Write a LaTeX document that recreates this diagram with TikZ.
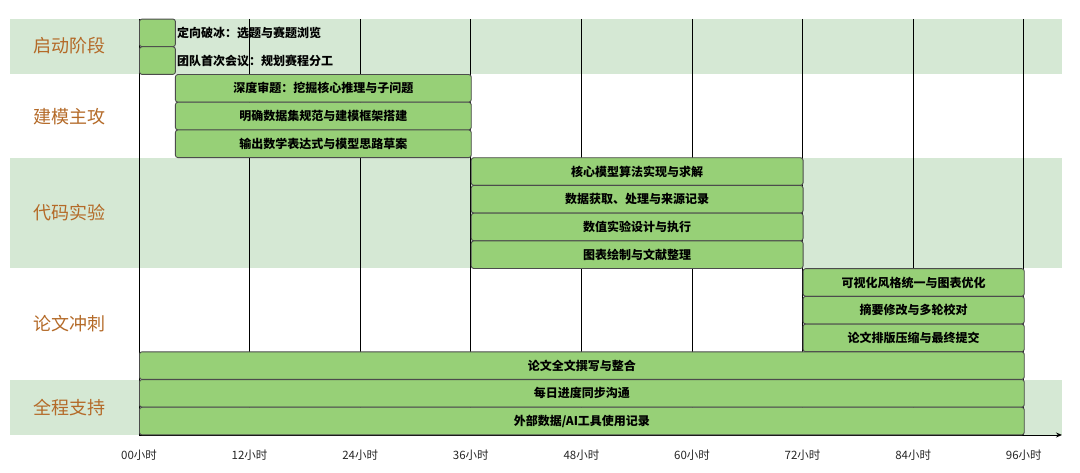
\documentclass[tikz,border=0pt]{standalone}
\usepackage{fontspec}
\setmainfont{Noto Sans CJK SC}
\usetikzlibrary{arrows.meta}
\begin{document}
\begin{tikzpicture}[x=1pt,y=-1pt,
  band/.style={fill=bandgreen,draw=none},
  bar/.style={fill=bargreen,draw=black!70,line width=0.9pt,rounded corners=2.5pt},
  bartext/.style={font=\fontsize{12}{14}\selectfont\bfseries,text=black},
  phase/.style={font=\fontsize{18}{20}\selectfont,text=phasebrown},
  tick/.style={font=\fontsize{11.5}{13}\selectfont,text=black!85},
  grid/.style={draw=black,line width=0.9pt}]
\definecolor{bandgreen}{HTML}{D5E8D4}
\definecolor{bargreen}{HTML}{97D077}
\definecolor{phasebrown}{HTML}{B46A28}
\useasboundingbox (0,0) rectangle (1080,473);
\fill[white] (0,0) rectangle (1080,473);
% bands
\fill[band] (10,19) rectangle (1062,74);
\fill[band] (10,158) rectangle (1062,268);
\fill[band] (10,380) rectangle (1062,435);
\node[phase] (p1) at (70,46) {启动阶段};
\node[phase] (p2) at (70,117) {建模主攻};
\node[phase] (p3) at (70,213) {代码实验};
\node[phase] (p4) at (70,324) {论文冲刺};
\node[phase] (p5) at (70,408) {全程支持};
% grid lines
\foreach \i in {0,...,8} {
  \coordinate (gt\i) at ({139+\i*110.6},19);
  \coordinate (gb\i) at ({139+\i*110.6},435);
  \draw[grid] (gt\i) -- (gb\i);
  \node[tick] (t\i) at ({139+\i*110.6},455) {\ifnum\i=0 00\else\the\numexpr\i*12\relax\fi 小时};
}
\coordinate (axend) at (1062,435);
\draw[grid,-{Stealth[length=6pt,width=5pt]}] (gb0) -- (axend);
% bars: hours -> x = 139 + h*9.2167
\def\hx#1{139+#1*9.2167}
\newcommand\gbar[5]{% name, h0, h1, row, text
  \node[bar,bartext,minimum height=27.6pt,minimum width={(#3-#2)*9.2167pt},inner sep=0pt,anchor=west]
    (#1) at ({\hx{#2}},{19+(#4-0.5)*27.73}) {#5};}
\gbar{b1}{0}{3.9}{1}{}
\node[bartext,anchor=west,inner sep=1pt] (l1) at (b1.east) {定向破冰：选题与赛题浏览};
\gbar{b2}{0}{3.9}{2}{}
\node[bartext,anchor=west,inner sep=1pt] (l2) at (b2.east) {团队首次会议：规划赛程分工};
\gbar{b3}{3.9}{36}{3}{深度审题：挖掘核心推理与子问题}
\gbar{b4}{3.9}{36}{4}{明确数据集规范与建模框架搭建}
\gbar{b5}{3.9}{36}{5}{输出数学表达式与模型思路草案}
\gbar{b6}{36}{72}{6}{核心模型算法实现与求解}
\gbar{b7}{36}{72}{7}{数据获取、处理与来源记录}
\gbar{b8}{36}{72}{8}{数值实验设计与执行}
\gbar{b9}{36}{72}{9}{图表绘制与文献整理}
\gbar{b10}{72}{96}{10}{可视化风格统一与图表优化}
\gbar{b11}{72}{96}{11}{摘要修改与多轮校对}
\gbar{b12}{72}{96}{12}{论文排版压缩与最终提交}
\gbar{b13}{0}{96}{13}{论文全文撰写与整合}
\gbar{b14}{0}{96}{14}{每日进度同步沟通}
\gbar{b15}{0}{96}{15}{外部数据/AI工具使用记录}
\end{tikzpicture}
\end{document}
